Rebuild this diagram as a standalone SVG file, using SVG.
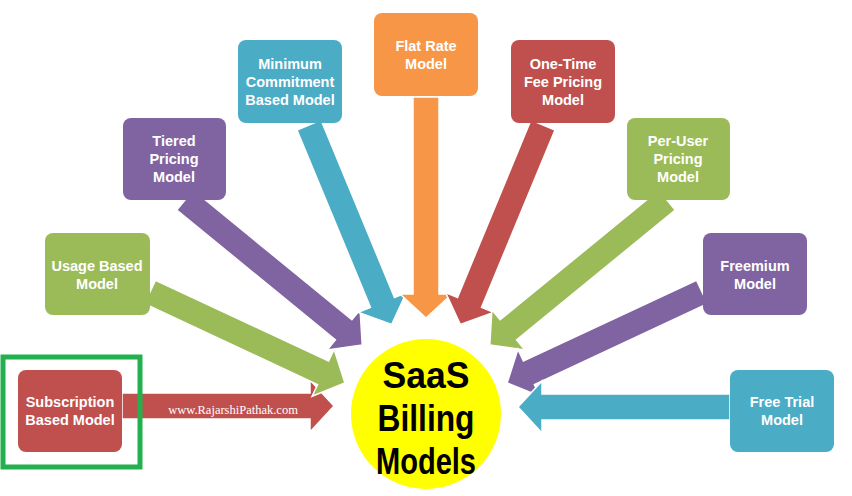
<svg xmlns="http://www.w3.org/2000/svg" width="852" height="496" viewBox="0 0 852 496">
<style>
.t{font-family:"Liberation Sans",Arial,sans-serif;font-weight:bold;font-size:14.5px;fill:#fff;text-anchor:middle}
.arr{stroke:#fff;stroke-width:1.5}
.red{fill:#C0504D}.grn{fill:#9BBB59}.pur{fill:#8064A2}.teal{fill:#4BACC6}.org{fill:#F79646}
</style>
<rect width="852" height="496" fill="#fff"/>
<g id="connectors">
<path class="arr red" transform="translate(122,406)" d="M0,-13H188V-26L212,0L188,26V13H0Z"/>
<path class="arr grn" transform="translate(150,292) rotate(25)" d="M0,-13H191V-26L215,0L191,26V13H0Z"/>
<path class="arr pur" transform="translate(185,200) rotate(39.3)" d="M0,-13H205V-26L229,0L205,26V13H0Z"/>
<path class="arr teal" transform="translate(309,125) rotate(67.5)" d="M0,-13H192V-26L216,0L192,26V13H0Z"/>
<path class="arr org" transform="translate(426,97) rotate(90)" d="M0,-13H197V-26L221,0L197,26V13H0Z"/>
<path class="arr red" transform="translate(543,125) rotate(112.5)" d="M0,-13H192V-26L216,0L192,26V13H0Z"/>
<path class="arr grn" transform="translate(667,200) rotate(140.7)" d="M0,-13H205V-26L229,0L205,26V13H0Z"/>
<path class="arr pur" transform="translate(702,292) rotate(155)" d="M0,-13H191V-26L215,0L191,26V13H0Z"/>
<path class="arr teal" transform="translate(730,407) rotate(180)" d="M0,-13H188V-26L212,0L188,26V13H0Z"/>
<text x="233" y="414" font-family="'Liberation Serif',serif" font-size="12.5" fill="#fff" text-anchor="middle">www.RajarshiPathak.com</text>
</g>
<g id="subscription">
<rect x="3" y="357" width="137" height="110" fill="none" stroke="#22B14C" stroke-width="5"/>
<rect class="red" x="18" y="370" width="104" height="82" rx="8"/>
<text class="t" x="70" y="407">Subscription</text><text class="t" x="70" y="425">Based Model</text>
</g>
<g id="usage"><rect class="grn" x="45" y="233" width="105" height="82" rx="8"/>
<text class="t" x="97" y="271">Usage Based</text><text class="t" x="97" y="289">Model</text></g>
<g id="tiered"><rect class="pur" x="123" y="118" width="103" height="82" rx="8"/>
<text class="t" x="174" y="146">Tiered</text><text class="t" x="174" y="164">Pricing</text><text class="t" x="174" y="182">Model</text></g>
<g id="minimum"><rect class="teal" x="238" y="40" width="104" height="83" rx="8"/>
<text class="t" x="290" y="69">Minimum</text><text class="t" x="290" y="87">Commitment</text><text class="t" x="290" y="105">Based Model</text></g>
<g id="flat"><rect class="org" x="374" y="13" width="104" height="83" rx="8"/>
<text class="t" x="426" y="51">Flat Rate</text><text class="t" x="426" y="69">Model</text></g>
<g id="onetime"><rect class="red" x="511" y="40" width="104" height="83" rx="8"/>
<text class="t" x="563" y="69">One-Time</text><text class="t" x="563" y="87">Fee Pricing</text><text class="t" x="563" y="105">Model</text></g>
<g id="peruser"><rect class="grn" x="627" y="118" width="103" height="82" rx="8"/>
<text class="t" x="678" y="146">Per-User</text><text class="t" x="678" y="164">Pricing</text><text class="t" x="678" y="182">Model</text></g>
<g id="freemium"><rect class="pur" x="703" y="233" width="104" height="82" rx="8"/>
<text class="t" x="755" y="271">Freemium</text><text class="t" x="755" y="289">Model</text></g>
<g id="freetrial"><rect class="teal" x="730" y="370" width="104" height="82" rx="8"/>
<text class="t" x="782" y="407">Free Trial</text><text class="t" x="782" y="425">Model</text></g>
<g id="center"><circle cx="426" cy="414" r="75" fill="#FFFF00"/>
<g font-family="'Liberation Sans',Arial,sans-serif" font-weight="bold" font-size="36" fill="#000" text-anchor="middle">
<text x="426" y="388" textLength="87" lengthAdjust="spacingAndGlyphs">SaaS</text><text x="426" y="431" textLength="97" lengthAdjust="spacingAndGlyphs">Billing</text><text x="426" y="474" textLength="100" lengthAdjust="spacingAndGlyphs">Models</text></g></g>
</svg>
